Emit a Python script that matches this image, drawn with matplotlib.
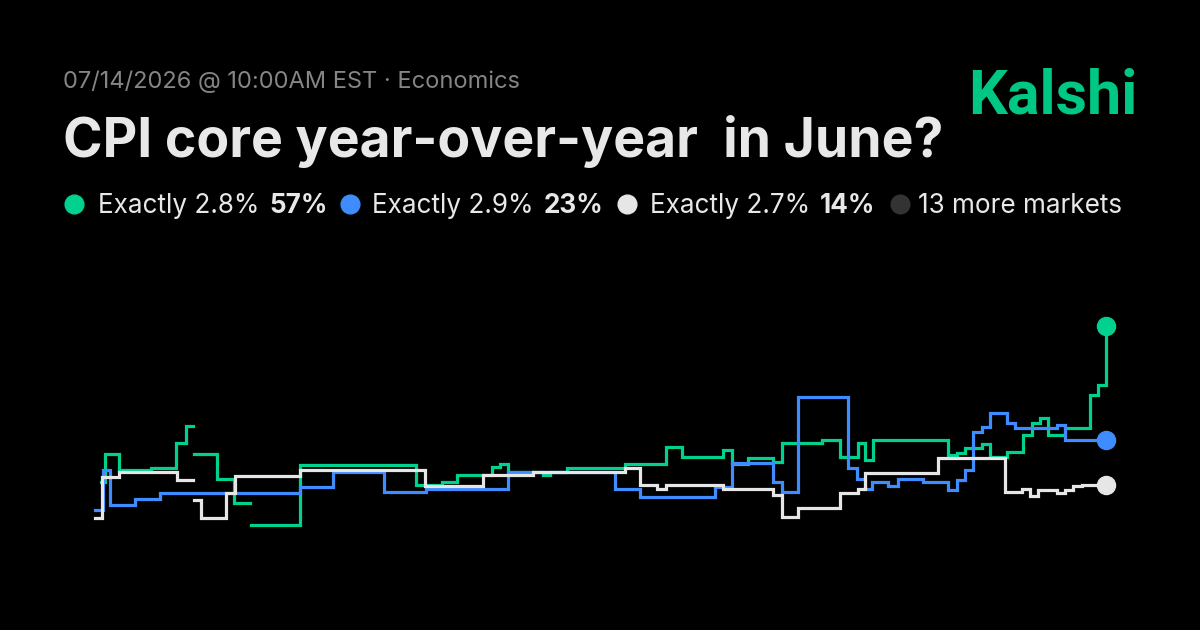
import numpy as np
import matplotlib
matplotlib.use("Agg")
import matplotlib.pyplot as plt
from matplotlib.lines import Line2D

# days since market open, probability in %
green_t = [0.7, 1.2, 2.8, 6.6, 9.6, 10.8, 11.6, 11.7, 14.5, 16.5, 18.4, 18.5, 24.3, 38.1, 41.2,
           43.0, 47.1, 48.1, 49.0, 53.2, 54.0, 56.0, 62.9, 67.8, 69.7, 74.5, 75.6, 77.5, 80.5,
           81.5, 86.3, 88.4, 90.6, 91.4, 92.3, 101.2, 102.3, 103.3, 105.3, 106.2, 108.2, 110.1,
           111.2, 112.2, 113.1, 115.1, 118.1, 119.1, 120.0]
green_p = [14.9, 22.4, 18.1, 18.6, 25.4, 30.0, np.nan, 22.4, 15.7, 9.2, np.nan, 3.2, 19.5, 14.1, 14.9,
           16.8, 18.9, 19.7, 17.6, 16.8, 17.6, 18.6, 19.7, 24.3, 21.6, 23.5, 19.7, 21.4, 20.3,
           25.4, 26.2, 21.6, 25.4, 20.8, 26.2, 22.2, 22.7, 24.1, 25.1, 21.6, 23.0, 27.6,
           30.8, 32.2, 27.6, 29.5, 38.4, 41.1, 57.0]

blue_t = [0.0, 0.9, 1.8, 4.7, 7.7, 24.3, 28.2, 34.3, 39.3, 49.0, 61.7, 64.7, 73.6, 75.6, 80.5,
          81.5, 83.4, 89.4, 90.4, 91.4, 92.2, 94.1, 95.3, 98.3, 101.2, 102.3, 103.3, 104.2,
          105.3, 106.2, 108.2, 109.2, 114.2, 115.1, 120.0]
blue_p = [7.3, 18.1, 8.6, 10.3, 11.9, 13.5, 17.6, 12.2, 13.0, 17.6, 13.0, 10.8, 13.5, 20.0, 14.9,
          12.2, 37.8, 18.6, 15.7, 13.0, 14.9, 13.8, 15.7, 14.9, 12.7, 15.4, 18.1, 28.4,
          29.7, 33.5, 30.8, 29.5, 30.3, 26.2, 26.2]

white_t = [0.0, 0.8, 2.8, 9.7, 11.6, 11.7, 12.6, 15.5, 16.6, 24.3, 39.2, 46.1, 52.0, 62.9, 64.7,
           66.7, 67.8, 74.5, 80.5, 81.5, 83.4, 88.4, 90.6, 91.4, 100.1, 108.0, 110.0, 111.0,
           111.9, 114.2, 115.1, 116.1, 117.2, 120.0]
white_p = [5.1, 16.2, 17.6, 15.4, np.nan, 10.0, 5.1, 11.9, 16.5, 18.1, 13.8, 16.8, 17.6, 18.6, 14.1,
           13.0, 14.1, 13.0, 11.4, 5.4, 7.8, 11.9, 13.0, 17.3, 21.4, 12.2, 13.0, 11.1,
           12.7, 11.9, 12.7, 13.8, 14.1, 14.1]

labels = ["Exactly 2.8%", "Exactly 2.9%", "Exactly 2.7%"]
chances = ["57%", "23%", "14%"]
more_label = "13 more markets"

GREEN = "#00d18f"
BLUE = "#3f8cff"
WHITE = "#e6e6e6"
GREY = "#333333"
BG = "#000000"

plt.rcParams["font.family"] = ["Inter", "DejaVu Sans"]

W, H = 1200, 630
fig = plt.figure(figsize=(12, 6.3), dpi=100, facecolor=BG)


def fx(px):
    return px / W


def fy(py):
    return 1 - py / H


# chart area: 0% at y=537px, 100% at y=167px
ax = fig.add_axes([fx(95), fy(537), 1011 / W, 370 / H])
ax.set_facecolor(BG)
ax.set_xlim(0, 120)
ax.set_ylim(0, 100)
ax.axis("off")

for t, p, c, z in [(green_t, green_p, GREEN, 2), (blue_t, blue_p, BLUE, 3), (white_t, white_p, WHITE, 4)]:
    ax.step(t, p, where="post", color=c, lw=2.3, zorder=z, clip_on=False, solid_joinstyle="miter")
    ax.plot([t[-1]], [p[-1]], "o", color=c, ms=13, zorder=z + 3, clip_on=False)

# header
fig.text(fx(63), fy(88), "07/14/2026 @ 10:00AM EST \u00b7 Economics", color="#858585",
         fontsize=17, va="baseline", ha="left")
fig.text(fx(63), fy(157), "CPI core year-over-year  in June?", color="#e8e8e8",
         fontsize=38.5, fontweight="bold", va="baseline", ha="left")
fig.text(fx(1137), fy(113), "Kalshi", color="#00c784", fontsize=44, fontweight="bold",
         family="Roboto", va="baseline", ha="right")

# legend row
renderer = fig.canvas.get_renderer()
base_y = fy(213)
dot_y = fy(204)
dot_x = [74, 350, 627, 900]
txt_x = [98, 372, 650, 918]
for i, c in enumerate([GREEN, BLUE, WHITE]):
    fig.add_artist(Line2D([fx(dot_x[i])], [dot_y], marker="o", ms=13.5, color=c,
                          transform=fig.transFigure))
    lab = fig.text(fx(txt_x[i]), base_y, labels[i], color="#e8e8e8", fontsize=18.8,
                   va="baseline", ha="left")
    end = lab.get_window_extent(renderer).x1
    fig.text(fx(end + 10), base_y, chances[i], color="#e8e8e8", fontsize=18.8, fontweight="bold",
             va="baseline", ha="left")
fig.add_artist(Line2D([fx(dot_x[3])], [dot_y], marker="o", ms=13.5, color=GREY,
                      transform=fig.transFigure))
fig.text(fx(txt_x[3]), base_y, more_label, color="#e8e8e8", fontsize=18.8, va="baseline", ha="left")

fig.savefig("out.png", dpi=100, facecolor=BG)
